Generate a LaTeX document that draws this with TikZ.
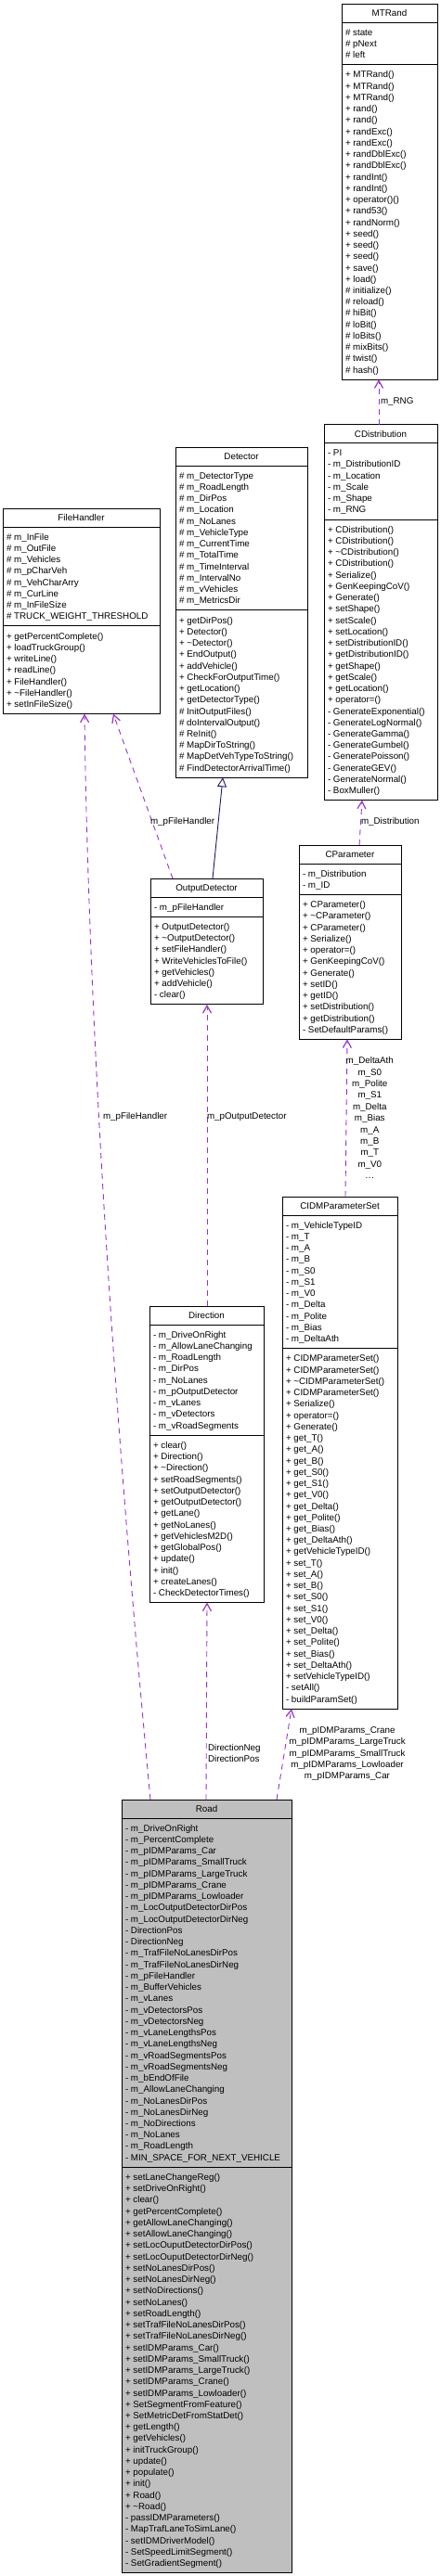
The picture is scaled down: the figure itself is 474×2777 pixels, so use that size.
\documentclass[tikz,border=0pt]{standalone}
\usepackage{fontspec}
\setmainfont{Liberation Sans}
\usetikzlibrary{arrows.meta,calc}
\definecolor{usecol}{HTML}{9A32CD}
\definecolor{inhcol}{HTML}{191970}
\definecolor{roadgray}{HTML}{BFBFBF}
\tikzset{
  umlbox/.style={draw=black, line width=0.9pt, inner sep=0pt, outer sep=0pt, rectangle},
  sepline/.style={draw=black, line width=0.9pt},
  txt/.style={inner sep=0pt, outer sep=0pt, font=\fontsize{9.8}{12.24}\selectfont},
  uses/.style={draw=usecol, line width=0.9pt, dash pattern=on 6pt off 5pt,
    -{Straight Barb[length=8pt,width=9pt,line width=1.2pt]}},
  inherit/.style={draw=inhcol, line width=0.9pt,
    -{Triangle[open,length=10pt,width=10pt,fill=white]}},
}
\def\cbfill{white}
% #1 name #2 left #3 right #4 top #5 title #6 nattr #7 nmeth #8 attrs #9 methods
\newcommand\classbox[9]{%
  \pgfmathsetmacro\cbA{#4+20}%
  \pgfmathsetmacro\cbB{\cbA+#6*12.24+9}%
  \pgfmathsetmacro\cbC{\cbB+#7*12.24+9}%
  \node[umlbox, fill=\cbfill, minimum width={(#3-#2)*1pt}, minimum height={(\cbC-#4)*1pt},
        anchor=north west] (#1) at (#2,#4) {};
  \draw[sepline] (#2,\cbA) -- (#3,\cbA);
  \draw[sepline] (#2,\cbB) -- (#3,\cbB);
  \node[txt, anchor=base] (#1-title) at ({(#2+#3)/2},{#4+13.6}) {#5};
  \foreach [count=\i] \itm in {#8} {
    \node[txt, anchor=base west] (#1-a\i) at ({#2+4},{\cbA+4.5+(\i-0.5)*12.24+3.6}) {\itm};
  }
  \foreach [count=\i] \itm in {#9} {
    \node[txt, anchor=base west] (#1-m\i) at ({#2+4},{\cbB+4.5+(\i-0.5)*12.24+3.6}) {\itm};
  }
}
\begin{document}
\begin{tikzpicture}[x=1pt,y=-1pt]
\useasboundingbox (0,0) rectangle (474,2777);

\classbox{mtrand}{368}{471}{4}{MTRand}{3}{27}
 {\# state, \# pNext, \# left}
 {+ MTRand(), + MTRand(), + MTRand(), + rand(), + rand(), + randExc(), + randExc(),
  + randDblExc(), + randDblExc(), + randInt(), + randInt(), + operator()(), + rand53(),
  + randNorm(), + seed(), + seed(), + seed(), + save(), + load(), \# initialize(),
  \# reload(), \# hiBit(), \# loBit(), \# loBits(), \# mixBits(), \# twist(), \# hash()}

\classbox{cdist}{349}{471}{457.5}{CDistribution}{6}{24}
 {- PI, - m\_DistributionID, - m\_Location, - m\_Scale, - m\_Shape, - m\_RNG}
 {+ CDistribution(), + CDistribution(), + \textasciitilde CDistribution(), + CDistribution(),
  + Serialize(), + GenKeepingCoV(), + Generate(), + setShape(), + setScale(), + setLocation(),
  + setDistributionID(), + getDistributionID(), + getShape(), + getScale(), + getLocation(),
  + operator=(), - GenerateExponential(), - GenerateLogNormal(), - GenerateGamma(),
  - GenerateGumbel(), - GeneratePoisson(), - GenerateGEV(), - GenerateNormal(), - BoxMuller()}

\classbox{det}{189}{331}{482}{Detector}{12}{14}
 {\# m\_DetectorType, \# m\_RoadLength, \# m\_DirPos, \# m\_Location, \# m\_NoLanes,
  \# m\_VehicleType, \# m\_CurrentTime, \# m\_TotalTime, \# m\_TimeInterval, \# m\_IntervalNo,
  \# m\_vVehicles, \# m\_MetricsDir}
 {+ getDirPos(), + Detector(), + \textasciitilde Detector(), + EndOutput(), + addVehicle(),
  + CheckForOutputTime(), + getLocation(), + getDetectorType(), \# InitOutputFiles(),
  \# doIntervalOutput(), \# ReInit(), \# MapDirToString(), \# MapDetVehTypeToString(),
  \# FindDetectorArrivalTime()}

\classbox{fh}{3}{172}{548}{FileHandler}{8}{7}
 {\# m\_InFile, \# m\_OutFile, \# m\_Vehicles, \# m\_pCharVeh, \# m\_VehCharArry,
  \# m\_CurLine, \# m\_InFileSize, \# TRUCK\_WEIGHT\_THRESHOLD}
 {+ getPercentComplete(), + loadTruckGroup(), + writeLine(), + readLine(), + FileHandler(),
  + \textasciitilde FileHandler(), + setInFileSize()}

\classbox{od}{162}{283}{947}{OutputDetector}{1}{7}
 {- m\_pFileHandler}
 {+ OutputDetector(), + \textasciitilde OutputDetector(), + setFileHandler(),
  + WriteVehiclesToFile(), + getVehicles(), + addVehicle(), - clear()}

\classbox{cparam}{322}{432}{911}{CParameter}{2}{12}
 {- m\_Distribution, - m\_ID}
 {+ CParameter(), + \textasciitilde CParameter(), + CParameter(), + Serialize(), + operator=(),
  + GenKeepingCoV(), + Generate(), + setID(), + getID(), + setDistribution(),
  + getDistribution(), - SetDefaultParams()}

\classbox{cidm}{304}{428}{1290}{CIDMParameterSet}{11}{31}
 {- m\_VehicleTypeID, - m\_T, - m\_A, - m\_B, - m\_S0, - m\_S1, - m\_V0, - m\_Delta,
  - m\_Polite, - m\_Bias, - m\_DeltaAth}
 {+ CIDMParameterSet(), + CIDMParameterSet(), + \textasciitilde CIDMParameterSet(),
  + CIDMParameterSet(), + Serialize(), + operator=(), + Generate(), + get\_T(), + get\_A(),
  + get\_B(), + get\_S0(), + get\_S1(), + get\_V0(), + get\_Delta(), + get\_Polite(),
  + get\_Bias(), + get\_DeltaAth(), + getVehicleTypeID(), + set\_T(), + set\_A(), + set\_B(),
  + set\_S0(), + set\_S1(), + set\_V0(), + set\_Delta(), + set\_Polite(), + set\_Bias(),
  + set\_DeltaAth(), + setVehicleTypeID(), - setAll(), - buildParamSet()}

\classbox{dir}{161}{284}{1408}{Direction}{9}{14}
 {- m\_DriveOnRight, - m\_AllowLaneChanging, - m\_RoadLength, - m\_DirPos, - m\_NoLanes,
  - m\_pOutputDetector, - m\_vLanes, - m\_vDetectors, - m\_vRoadSegments}
 {+ clear(), + Direction(), + \textasciitilde Direction(), + setRoadSegments(),
  + setOutputDetector(), + getOutputDetector(), + getLane(), + getNoLanes(),
  + getVehiclesM2D(), + getGlobalPos(), + update(), + init(), + createLanes(),
  - CheckDetectorTimes()}

\def\cbfill{roadgray}
\classbox{road}{131}{314}{1940}{Road}{30}{35}
 {- m\_DriveOnRight, - m\_PercentComplete, - m\_pIDMParams\_Car, - m\_pIDMParams\_SmallTruck,
  - m\_pIDMParams\_LargeTruck, - m\_pIDMParams\_Crane, - m\_pIDMParams\_Lowloader,
  - m\_LocOutputDetectorDirPos, - m\_LocOutputDetectorDirNeg, - DirectionPos, - DirectionNeg,
  - m\_TrafFileNoLanesDirPos, - m\_TrafFileNoLanesDirNeg, - m\_pFileHandler,
  - m\_BufferVehicles, - m\_vLanes, - m\_vDetectorsPos, - m\_vDetectorsNeg,
  - m\_vLaneLengthsPos, - m\_vLaneLengthsNeg, - m\_vRoadSegmentsPos, - m\_vRoadSegmentsNeg,
  - m\_bEndOfFile, - m\_AllowLaneChanging, - m\_NoLanesDirPos, - m\_NoLanesDirNeg,
  - m\_NoDirections, - m\_NoLanes, - m\_RoadLength, - MIN\_SPACE\_FOR\_NEXT\_VEHICLE}
 {+ setLaneChangeReg(), + setDriveOnRight(), + clear(), + getPercentComplete(),
  + getAllowLaneChanging(), + setAllowLaneChanging(), + setLocOuputDetectorDirPos(),
  + setLocOuputDetectorDirNeg(), + setNoLanesDirPos(), + setNoLanesDirNeg(),
  + setNoDirections(), + setNoLanes(), + setRoadLength(), + setTrafFileNoLanesDirPos(),
  + setTrafFileNoLanesDirNeg(), + setIDMParams\_Car(), + setIDMParams\_SmallTruck(),
  + setIDMParams\_LargeTruck(), + setIDMParams\_Crane(), + setIDMParams\_Lowloader(),
  + SetSegmentFromFeature(), + SetMetricDetFromStatDet(), + getLength(), + getVehicles(),
  + initTruckGroup(), + update(), + populate(), + init(), + Road(), + \textasciitilde Road(),
  - passIDMParameters(), - MapTrafLaneToSimLane(), - setIDMDriverModel(),
  - SetSpeedLimitSegment(), - SetGradientSegment()}

% connectors
\draw[uses] ($(cdist.north west)+(59,0)$) -- ($(mtrand.south west)+(40,0)$);
\node[txt, anchor=west] (lrng) at (410,433) {m\_RNG};

\draw[uses] ($(cparam.north west)+(65,0)$) -- ($(cdist.south west)+(41,0)$);
\node[txt, anchor=west] (ldist) at (389,886) {m\_Distribution};

\draw[uses] ($(cidm.north west)+(68,0)$) -- ($(cparam.south west)+(52,0)$);
\foreach [count=\i] \itm in {m\_DeltaAth, m\_S0, m\_Polite, m\_S1, m\_Delta, m\_Bias, m\_A, m\_B, m\_T, m\_V0, {.\kern0.5pt.\kern0.5pt.}} {
  \node[txt, anchor=base] (lpar\i) at (398.3,{1143+(\i-1)*12.4+3.6}) {\itm};
}

\draw[uses] ($(road.north west)+(167,0)$) -- ($(cidm.south west)+(10,0)$);
\foreach [count=\i] \itm in {m\_pIDMParams\_Crane, m\_pIDMParams\_LargeTruck, m\_pIDMParams\_SmallTruck, m\_pIDMParams\_Lowloader, m\_pIDMParams\_Car} {
  \node[txt, anchor=base] (lidm\i) at (374,{1865+(\i-1)*12.3+3.6}) {\itm};
}

\draw[uses] ($(road.north west)+(91,0)$) -- ($(dir.south west)+(62,0)$);
\node[txt, anchor=base west] (ldneg) at (224,{1884+3.6}) {DirectionNeg};
\node[txt, anchor=base west] (ldpos) at (224,{1896+3.6}) {DirectionPos};

\draw[uses] ($(road.north west)+(31,0)$) .. controls (130,1600) and (96,1150) .. ($(fh.south west)+(88,0)$);
\node[txt, anchor=west] (lfh1) at (111,1204) {m\_pFileHandler};

\draw[uses] ($(od.north west)+(24,0)$) -- ($(fh.south west)+(119,0)$);
\node[txt, anchor=west] (lfh2) at (162,886) {m\_pFileHandler};

\draw[uses] ($(dir.north west)+(62,0)$) -- ($(od.south west)+(61,0)$);
\node[txt, anchor=west] (lod) at (223,1204) {m\_pOutputDetector};

\draw[inherit] ($(od.north west)+(67,0)$) -- ($(det.south west)+(51,0)$);
\end{tikzpicture}
\end{document}
